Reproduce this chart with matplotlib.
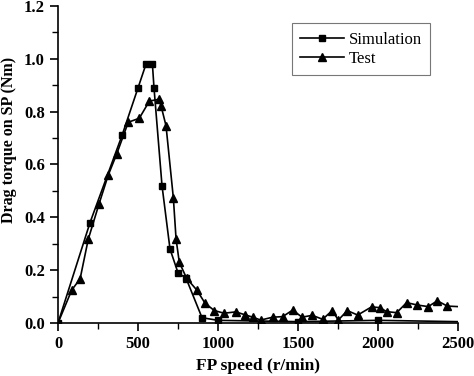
import matplotlib
matplotlib.use('Agg')
import matplotlib.pyplot as plt
from matplotlib import ticker as mtick

plt.rcParams['font.family'] = 'Liberation Serif'

# Simulation (squares)
simSpeed = [0, 200, 400, 500, 550, 590, 600, 650, 700, 750, 800, 900, 1000, 1500, 2000, 2500]
simTorque = [0, 0.38, 0.71, 0.89, 0.98, 0.98, 0.89, 0.52, 0.28, 0.19, 0.17, 0.02, 0.01, 0.005, 0.01, 0.005]

# Test (triangles)
testSpeed = [0, 86, 138, 189, 256, 314, 367, 439, 508, 571, 631, 644, 675, 721, 738, 758,
             804, 867, 919, 977, 1038, 1111, 1169, 1217, 1267, 1342, 1404, 1467, 1525, 1589,
             1654, 1714, 1752, 1808, 1873, 1960, 2012, 2054, 2117, 2179, 2246, 2314, 2371, 2433, 2500]
testTorque = [0, 0.125, 0.167, 0.317, 0.45, 0.56, 0.64, 0.76, 0.775, 0.84, 0.847, 0.822, 0.747, 0.473, 0.317, 0.23,
              0.169, 0.125, 0.075, 0.047, 0.037, 0.042, 0.031, 0.022, 0.011, 0.022, 0.024, 0.049, 0.022, 0.029,
              0.014, 0.047, 0.011, 0.047, 0.03, 0.061, 0.058, 0.043, 0.039, 0.077, 0.068, 0.062, 0.084, 0.064, 0.062]

fig = plt.figure(figsize=(4.74, 3.76), dpi=100)
ax = fig.add_axes([0.1224, 0.141, 0.8438, 0.843])

ax.plot(simSpeed, simTorque, color='black', lw=1.2, marker='s', ms=4.2,
        markevery=list(range(len(simSpeed) - 1)), label='Simulation')
ax.plot(testSpeed, testTorque, color='black', lw=1.2, marker='^', ms=5.2,
        markevery=list(range(1, len(testSpeed) - 1)), label='Test')

ax.set_xlim(0, 2500)
ax.set_ylim(0, 1.2)
ax.xaxis.set_major_locator(mtick.MultipleLocator(500))
ax.xaxis.set_minor_locator(mtick.MultipleLocator(250))
ax.yaxis.set_major_locator(mtick.MultipleLocator(0.2))
ax.yaxis.set_minor_locator(mtick.MultipleLocator(0.1))
ax.yaxis.set_major_formatter(mtick.FormatStrFormatter('%.1f'))

for s in ['top', 'right']:
    ax.spines[s].set_visible(False)
for s in ['left', 'bottom']:
    ax.spines[s].set_linewidth(1.2)

ax.tick_params(which='major', direction='out', length=6, width=1.2, labelsize=12)
ax.tick_params(which='minor', direction='out', length=4, width=1.0)
for lab in ax.get_xticklabels() + ax.get_yticklabels():
    lab.set_fontweight('bold')

ax.set_xlabel('FP speed (r/min)', fontsize=12.5, fontweight='bold', va='center')
ax.set_ylabel('Drag torque on SP (Nm)', fontsize=11.5, fontweight='bold', va='center')
ax.xaxis.set_label_coords(0.5, -0.136)
ax.yaxis.set_label_coords(-0.123, 0.577)

leg = ax.legend(loc='upper right', bbox_to_anchor=(0.93, 0.945), fontsize=12, frameon=True,
                fancybox=False, edgecolor='#555555', handlelength=2.6, borderpad=0.5,
                labelspacing=0.2, handletextpad=0.3, borderaxespad=0)
leg.get_frame().set_linewidth(0.8)

plt.savefig('out.png', dpi=100)
